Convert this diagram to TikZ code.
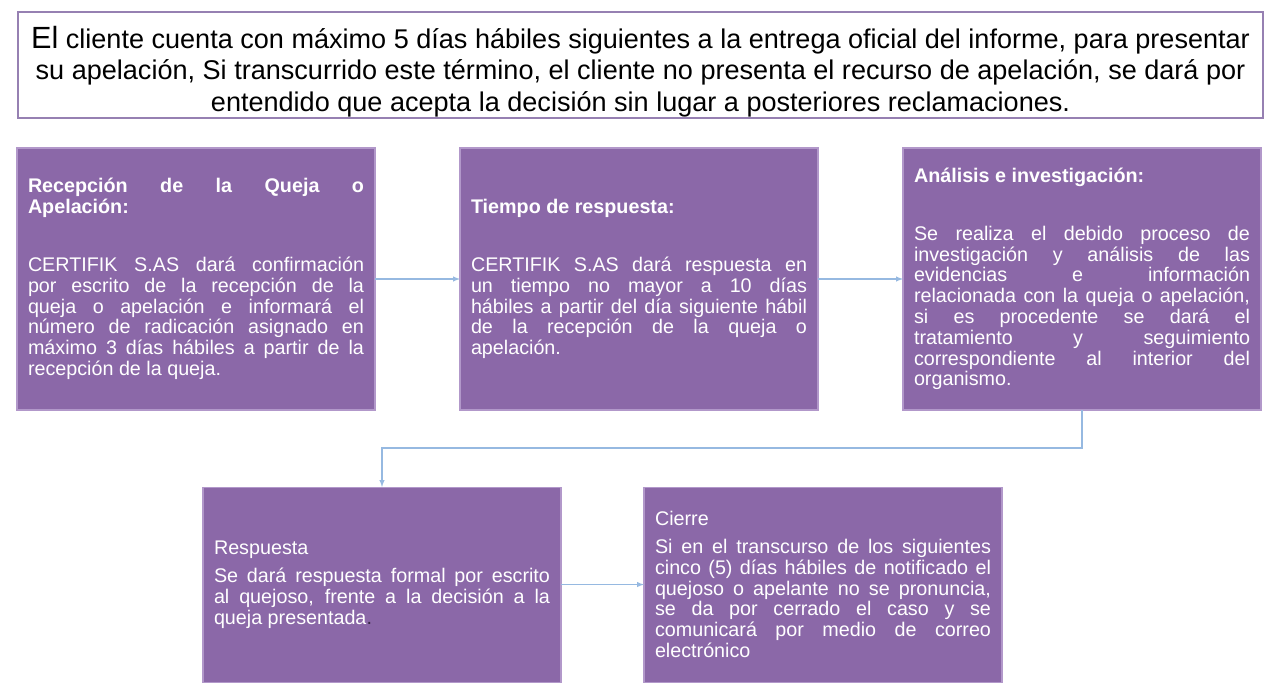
\documentclass[tikz,border=0pt]{standalone}
\usepackage{fontspec}
\setmainfont{Liberation Sans}
\usetikzlibrary{arrows,calc,positioning}
\usepackage{xcolor}
\newcommand{\mygap}{63.75pt}
\newcommand{\mylowgap}{62.25pt}
\tikzset{
    notesty/.style={draw=notedge,line width=1pt,fill=white,rectangle,minimum width=933.75pt,minimum height=79.5pt,inner sep=0pt,outer sep=0pt,align=center,font=\fontsize{20.3}{23.6}\selectfont},
    boxsty/.style={draw=boxedge,line width=0.8pt,fill=boxpurple,rectangle,text=white,minimum width=268.5pt,minimum height=196.5pt,text width=252pt,inner xsep=8.25pt,inner ysep=0pt,outer sep=0pt,align=justify,font=\fontsize{14.8}{15.6}\selectfont},
    lowsty/.style={boxsty,minimum height=146.25pt},
    flowsty/.style={draw=flowblue,line width=0.8pt,->},
}
\definecolor{boxpurple}{RGB}{139,104,168}
\definecolor{boxedge}{RGB}{178,152,202}
\definecolor{notedge}{RGB}{150,128,178}
\definecolor{flowblue}{RGB}{150,185,225}
\colorlet{dotdark}{boxpurple!40!black}
\newcommand{\bigvs}{\par\vspace{27.9pt}}
\newcommand{\smallvs}{\par\vspace{5.4pt}}

\begin{document}
\begin{tikzpicture}[>=latex]
\useasboundingbox (0,0) rectangle (960pt,-524.25pt);
\node[notesty] (nota) at (480.4pt,-48.75pt)
  {\rule{0pt}{26.5pt}{\fontsize{23}{23.6}\selectfont El} cliente cuenta con máximo 5 días hábiles siguientes a la entrega oficial del informe, para presentar\\
   su apelación, Si transcurrido este término, el cliente no presenta el recurso de apelación, se dará por\\
   entendido que acepta la decisión sin lugar a posteriores reclamaciones.};

\node[boxsty] (recep) at (147pt,-209.25pt)
  {\textbf{Recepción de la Queja o\linebreak Apelación:}\bigvs
   CERTIFIK S.AS dará confirmación\linebreak por escrito de la recepción de la\linebreak queja o apelación e informará el\linebreak número de radicación asignado en\linebreak máximo 3 días hábiles a partir de la\linebreak recepción de la queja.};
\node[boxsty, right=\mygap of recep] (tiempo)
  {\textbf{Tiempo de respuesta:}\bigvs
   CERTIFIK S.AS dará respuesta en\linebreak un tiempo no mayor a 10 días\linebreak hábiles a partir del día siguiente hábil\linebreak de la recepción de la queja o\linebreak apelación.};
\node[boxsty, right=\mygap of tiempo] (anal)
  {\textbf{Análisis e investigación:}\bigvs
   Se realiza el debido proceso de\linebreak investigación y análisis de las\linebreak evidencias e información\linebreak relacionada con la queja o apelación,\linebreak si es procedente se dará el\linebreak tratamiento y seguimiento\linebreak correspondiente al interior del\linebreak organismo.};

\node[lowsty] (resp) at (286.5pt,-438.4pt)
  {Respuesta\smallvs
   Se dará respuesta formal por escrito\linebreak al quejoso, frente a la decisión a la\linebreak queja presentada\textcolor{dotdark}{.}};
\node[lowsty, right=\mylowgap of resp] (cierre)
  {Cierre\smallvs
   Si en el transcurso de los siguientes\linebreak cinco (5) días hábiles de notificado el\linebreak quejoso o apelante no se pronuncia,\linebreak se da por cerrado el caso y se\linebreak comunicará por medio de correo\linebreak electrónico};

\draw[flowsty] (recep) -- (tiempo);
\draw[flowsty] (tiempo) -- (anal);
\draw[flowsty] (anal.south) -- ++(0,-28.5pt) -| (resp.north);
\draw[flowsty] (resp) -- (cierre);
\end{tikzpicture}
\end{document}
